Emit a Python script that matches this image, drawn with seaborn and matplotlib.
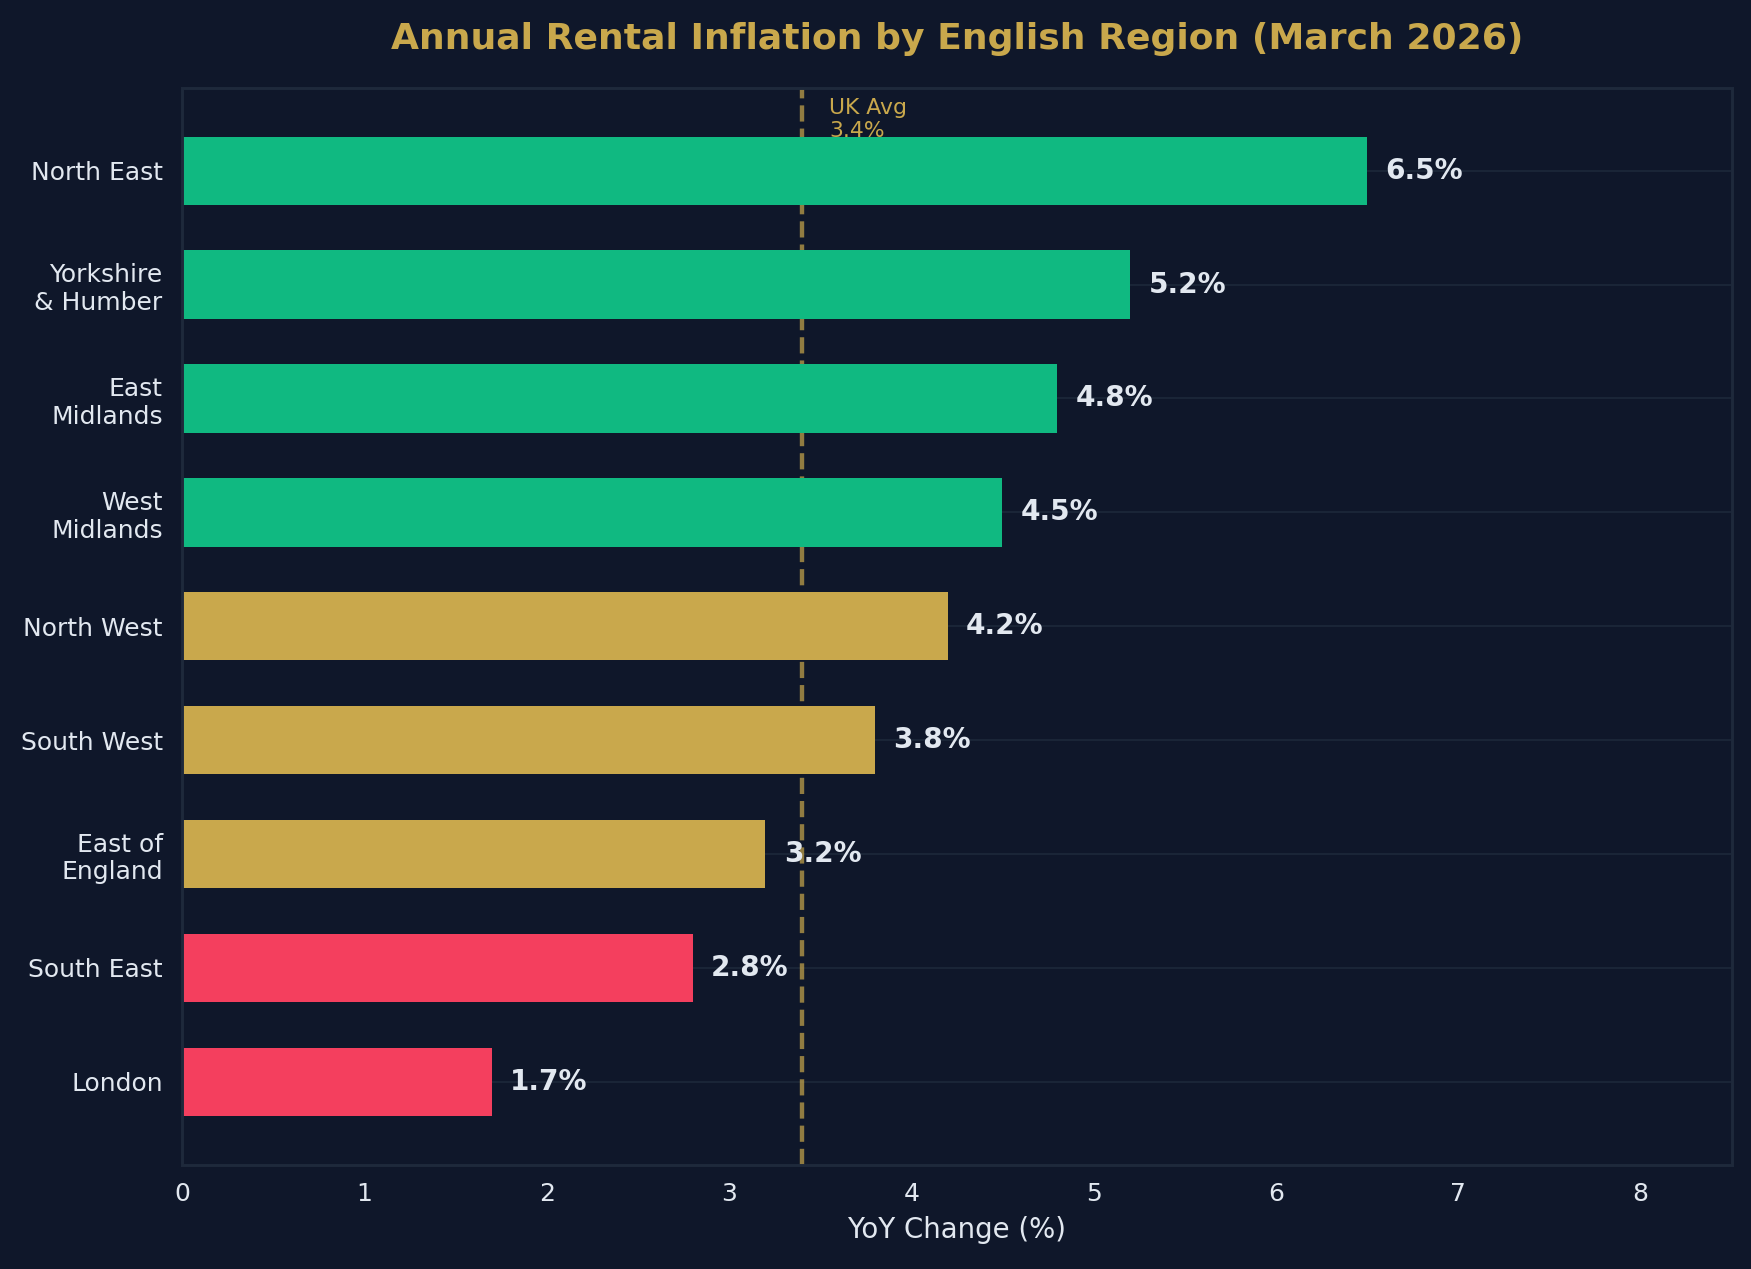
import matplotlib
matplotlib.use("Agg")
import matplotlib.pyplot as plt
import seaborn as sns
import pandas as pd

# Data
regions = ["North East", "Yorkshire\n& Humber", "East\nMidlands", "West\nMidlands",
           "North West", "South West", "East of\nEngland", "South East", "London"]
yoy_change = [6.5, 5.2, 4.8, 4.5, 4.2, 3.8, 3.2, 2.8, 1.7]
bar_colors = ["#10b981", "#10b981", "#10b981", "#10b981",
              "#c9a84c", "#c9a84c", "#c9a84c", "#f43f5e", "#f43f5e"]
uk_avg = 3.4

BG = "#0f172a"
TXT = "#e2e8f0"
GOLD = "#c9a84c"
EDGE = "#1e293b"

df = pd.DataFrame({"Region": regions, "YoY": yoy_change})

sns.set_style("dark")
plt.rcParams['font.family'] = ['DejaVu Sans']

fig, ax = plt.subplots(figsize=(1751 / 175, 1269 / 175), dpi=175)
fig.patch.set_facecolor(BG)
ax.set_facecolor(BG)

sns.barplot(data=df, x="YoY", y="Region", hue="Region", palette=bar_colors,
            legend=False, orient="h", width=0.6, saturation=1, ax=ax,
            zorder=2, edgecolor="none", linewidth=0)

# UK average line
ax.axvline(uk_avg, color=GOLD, alpha=0.7, linestyle="--", linewidth=1.8, zorder=1)
ax.text(uk_avg + 0.15, -0.64, f"UK Avg\n{uk_avg}%", color=GOLD, fontsize=9,
        va="top", ha="left", zorder=1)

# value labels
for i, v in enumerate(yoy_change):
    ax.text(v + 0.1, i, f"{v}%", va="center", ha="left", color=TXT,
            fontsize=11.5, fontweight="bold", zorder=3)

ax.set_xlim(0, 8.5)
ax.set_ylim(len(regions) - 1 + 0.73, -0.73)
ax.set_xticks(range(0, 9))
ax.set_xlabel("YoY Change (%)", color=TXT, fontsize=11.4)
ax.set_ylabel("")
ax.set_title("Annual Rental Inflation by English Region (March 2026)",
             color=GOLD, fontsize=14.85, fontweight="bold", pad=16)

ax.tick_params(axis="both", colors=TXT, labelsize=10.3, length=3.5, width=1)
ax.tick_params(axis="y", pad=4.5)
ax.grid(axis="y", color=EDGE, linewidth=0.8, alpha=0.8, zorder=0)
ax.grid(axis="x", visible=False)
ax.set_axisbelow(True)
for s in ax.spines.values():
    s.set_visible(True)
    s.set_color(EDGE)
    s.set_linewidth(1.2)

fig.subplots_adjust(left=0.104, right=0.989, top=0.931, bottom=0.082)
fig.savefig("out.png", dpi=175, facecolor=BG)
